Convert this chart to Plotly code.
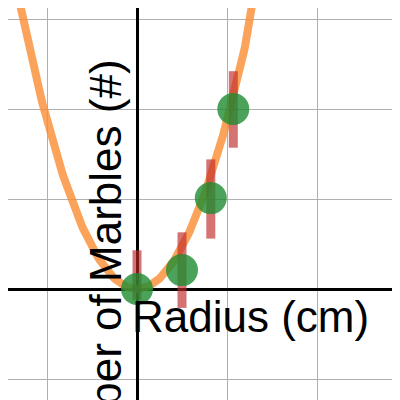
import numpy as np
import plotly.graph_objects as go

radius = [0.0, 0.5, 0.82, 1.07]
marbles = [0.0, 0.21, 1.01, 2.0]
err_plus = [0.43, 0.42, 0.43, 0.42]
err_minus = [0.12, 0.42, 0.45, 0.43]
fit_a = 1.87  # fitted y = a*x^2

xs = np.linspace(-1.6, 3.0, 300)
ys = fit_a * xs**2

fig = go.Figure()
fig.add_trace(go.Scatter(x=xs, y=ys, mode="lines",
                         line=dict(color="rgba(250,140,50,0.8)", width=8), hoverinfo="skip"))
for x, y, ep, em in zip(radius, marbles, err_plus, err_minus):
    fig.add_trace(go.Scatter(x=[x, x], y=[y - em, y + ep], mode="lines",
                             line=dict(color="rgba(190,40,40,0.65)", width=9)))
fig.add_trace(go.Scatter(x=radius, y=marbles, mode="markers",
                         marker=dict(size=32, color="rgba(30,140,50,0.8)")))
fig.add_annotation(x=1.26, y=-0.31, text="Radius (cm)", showarrow=False,
                   font=dict(size=44, color="black", family="Liberation Sans"))
fig.add_annotation(x=-0.36, y=0.1, text="Number of Marbles (#)", showarrow=False, textangle=-90,
                   font=dict(size=44, color="black", family="Liberation Sans"))
ax = dict(showgrid=True, gridcolor="#b0b0b0", gridwidth=1, dtick=1, zeroline=True,
          zerolinecolor="black", zerolinewidth=3, showticklabels=False, ticks="")
fig.update_xaxes(range=[-129/90, 271/90], **ax)
fig.update_yaxes(range=[-119/90, 281/90], **ax)
fig.update_layout(width=400, height=400, margin=dict(l=0, r=0, t=0, b=0),
                  plot_bgcolor="white", paper_bgcolor="white", showlegend=False)
fig.write_html("out.html")
